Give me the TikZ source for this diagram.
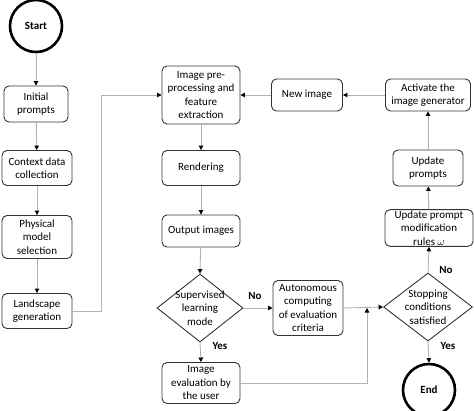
\documentclass[tikz,border=0pt]{standalone}
\usepackage{fontspec}
\setmainfont{Carlito}
\usetikzlibrary{shapes.geometric,arrows.meta}
\tikzset{
  box/.style={draw=black!80,line width=0.9pt,rounded corners=5pt,align=center,inner sep=1pt,font=\fontsize{11}{13.5}\selectfont},
  term/.style={circle,draw=black,line width=2.6pt,minimum size=52pt,inner sep=0pt,font=\fontsize{11}{13.5}\selectfont\bfseries},
  dec/.style={diamond,draw=black!80,line width=0.9pt,inner sep=-8pt,align=center,font=\fontsize{11}{13.5}\selectfont},
  conn/.style={draw=black!30,line width=0.9pt,-{Triangle[length=4.5pt,width=4.5pt,black]}},
  lbl/.style={font=\fontsize{11}{13}\selectfont\bfseries}
}
\begin{document}
\begin{tikzpicture}[x=1pt,y=-1pt]
\useasboundingbox (0,0) rectangle (474,410);
% left column
\node[term] (start) at (36,26) {Start};
\node[box,minimum width=64pt,minimum height=36pt] (init) at (36,104) {Initial\\prompts};
\node[box,minimum width=70pt,minimum height=35pt] (ctx) at (37,168) {Context data\\collection};
\node[box,minimum width=70pt,minimum height=43pt] (phys) at (37,237) {Physical\\model\\selection};
\node[box,minimum width=70pt,minimum height=35pt] (land) at (37,311) {Landscape\\generation};
% middle column
\node[box,minimum width=78pt,minimum height=58pt] (pre) at (201,95) {Image pre-\\processing and\\feature\\extraction};
\node[box,minimum width=78pt,minimum height=35pt] (rend) at (201,168) {Rendering};
\node[box,minimum width=78pt,minimum height=32pt] (out) at (201,231) {Output images};
\node[dec,minimum width=86pt,minimum height=68pt] (sup) at (200,308) {Supervised\\learning\\mode};
\node[box,minimum width=78pt,minimum height=41pt] (evalu) at (201,383) {Image\\evaluation by\\the user};
\node[box,minimum width=70pt,minimum height=55pt] (auto) at (308,308) {Autonomous\\computing\\of evaluation\\criteria};
\node[box,minimum width=71pt,minimum height=32pt] (new) at (307,95) {New image};
% right column
\node[box,minimum width=85pt,minimum height=32pt] (act) at (428,95) {Activate the\\image generator};
\node[box,minimum width=70pt,minimum height=36pt] (updp) at (428,168) {Update\\prompts};
\node[box,minimum width=88pt,minimum height=35pt] (updr) at (429,228) {Update prompt\\modification\\rules $\omega$};
\node[dec,minimum width=89pt,minimum height=68pt] (stop) at (428,307) {Stopping\\conditions\\satisfied};
\node[term] (end) at (429,390) {End};
\coordinate (j) at (367,308);
% connectors
\draw[conn] (start) -- (init);
\draw[conn] (init) -- (ctx);
\draw[conn] (ctx) -- (phys);
\draw[conn] (phys) -- (land);
\draw[conn] (land.east) -- ++(29,0) |- (pre.west);
\draw[conn] (pre) -- (rend);
\draw[conn] (rend) -- (out);
\draw[conn] (out) -- (sup.north);
\draw[conn] (sup.south) -- (evalu.north);
\draw[conn] (sup.east) -- (auto.west);
\draw[conn] (auto.east) -- (stop.west);
\draw[conn] (evalu.east) -| (j);
\draw[conn] (stop.north) -- (updr.south);
\draw[conn] (stop.south) -- (end.north);
\draw[conn] (updr) -- (updp);
\draw[conn] (updp) -- (act);
\draw[conn] (act) -- (new);
\draw[conn] (new) -- (pre);
% labels
\node[lbl] (lyes1) at (220,346) {Yes};
\node[lbl] (lno1) at (255,296) {No};
\node[lbl] (lno2) at (446,270) {No};
\node[lbl] (lyes2) at (448,346) {Yes};
\end{tikzpicture}
\end{document}
